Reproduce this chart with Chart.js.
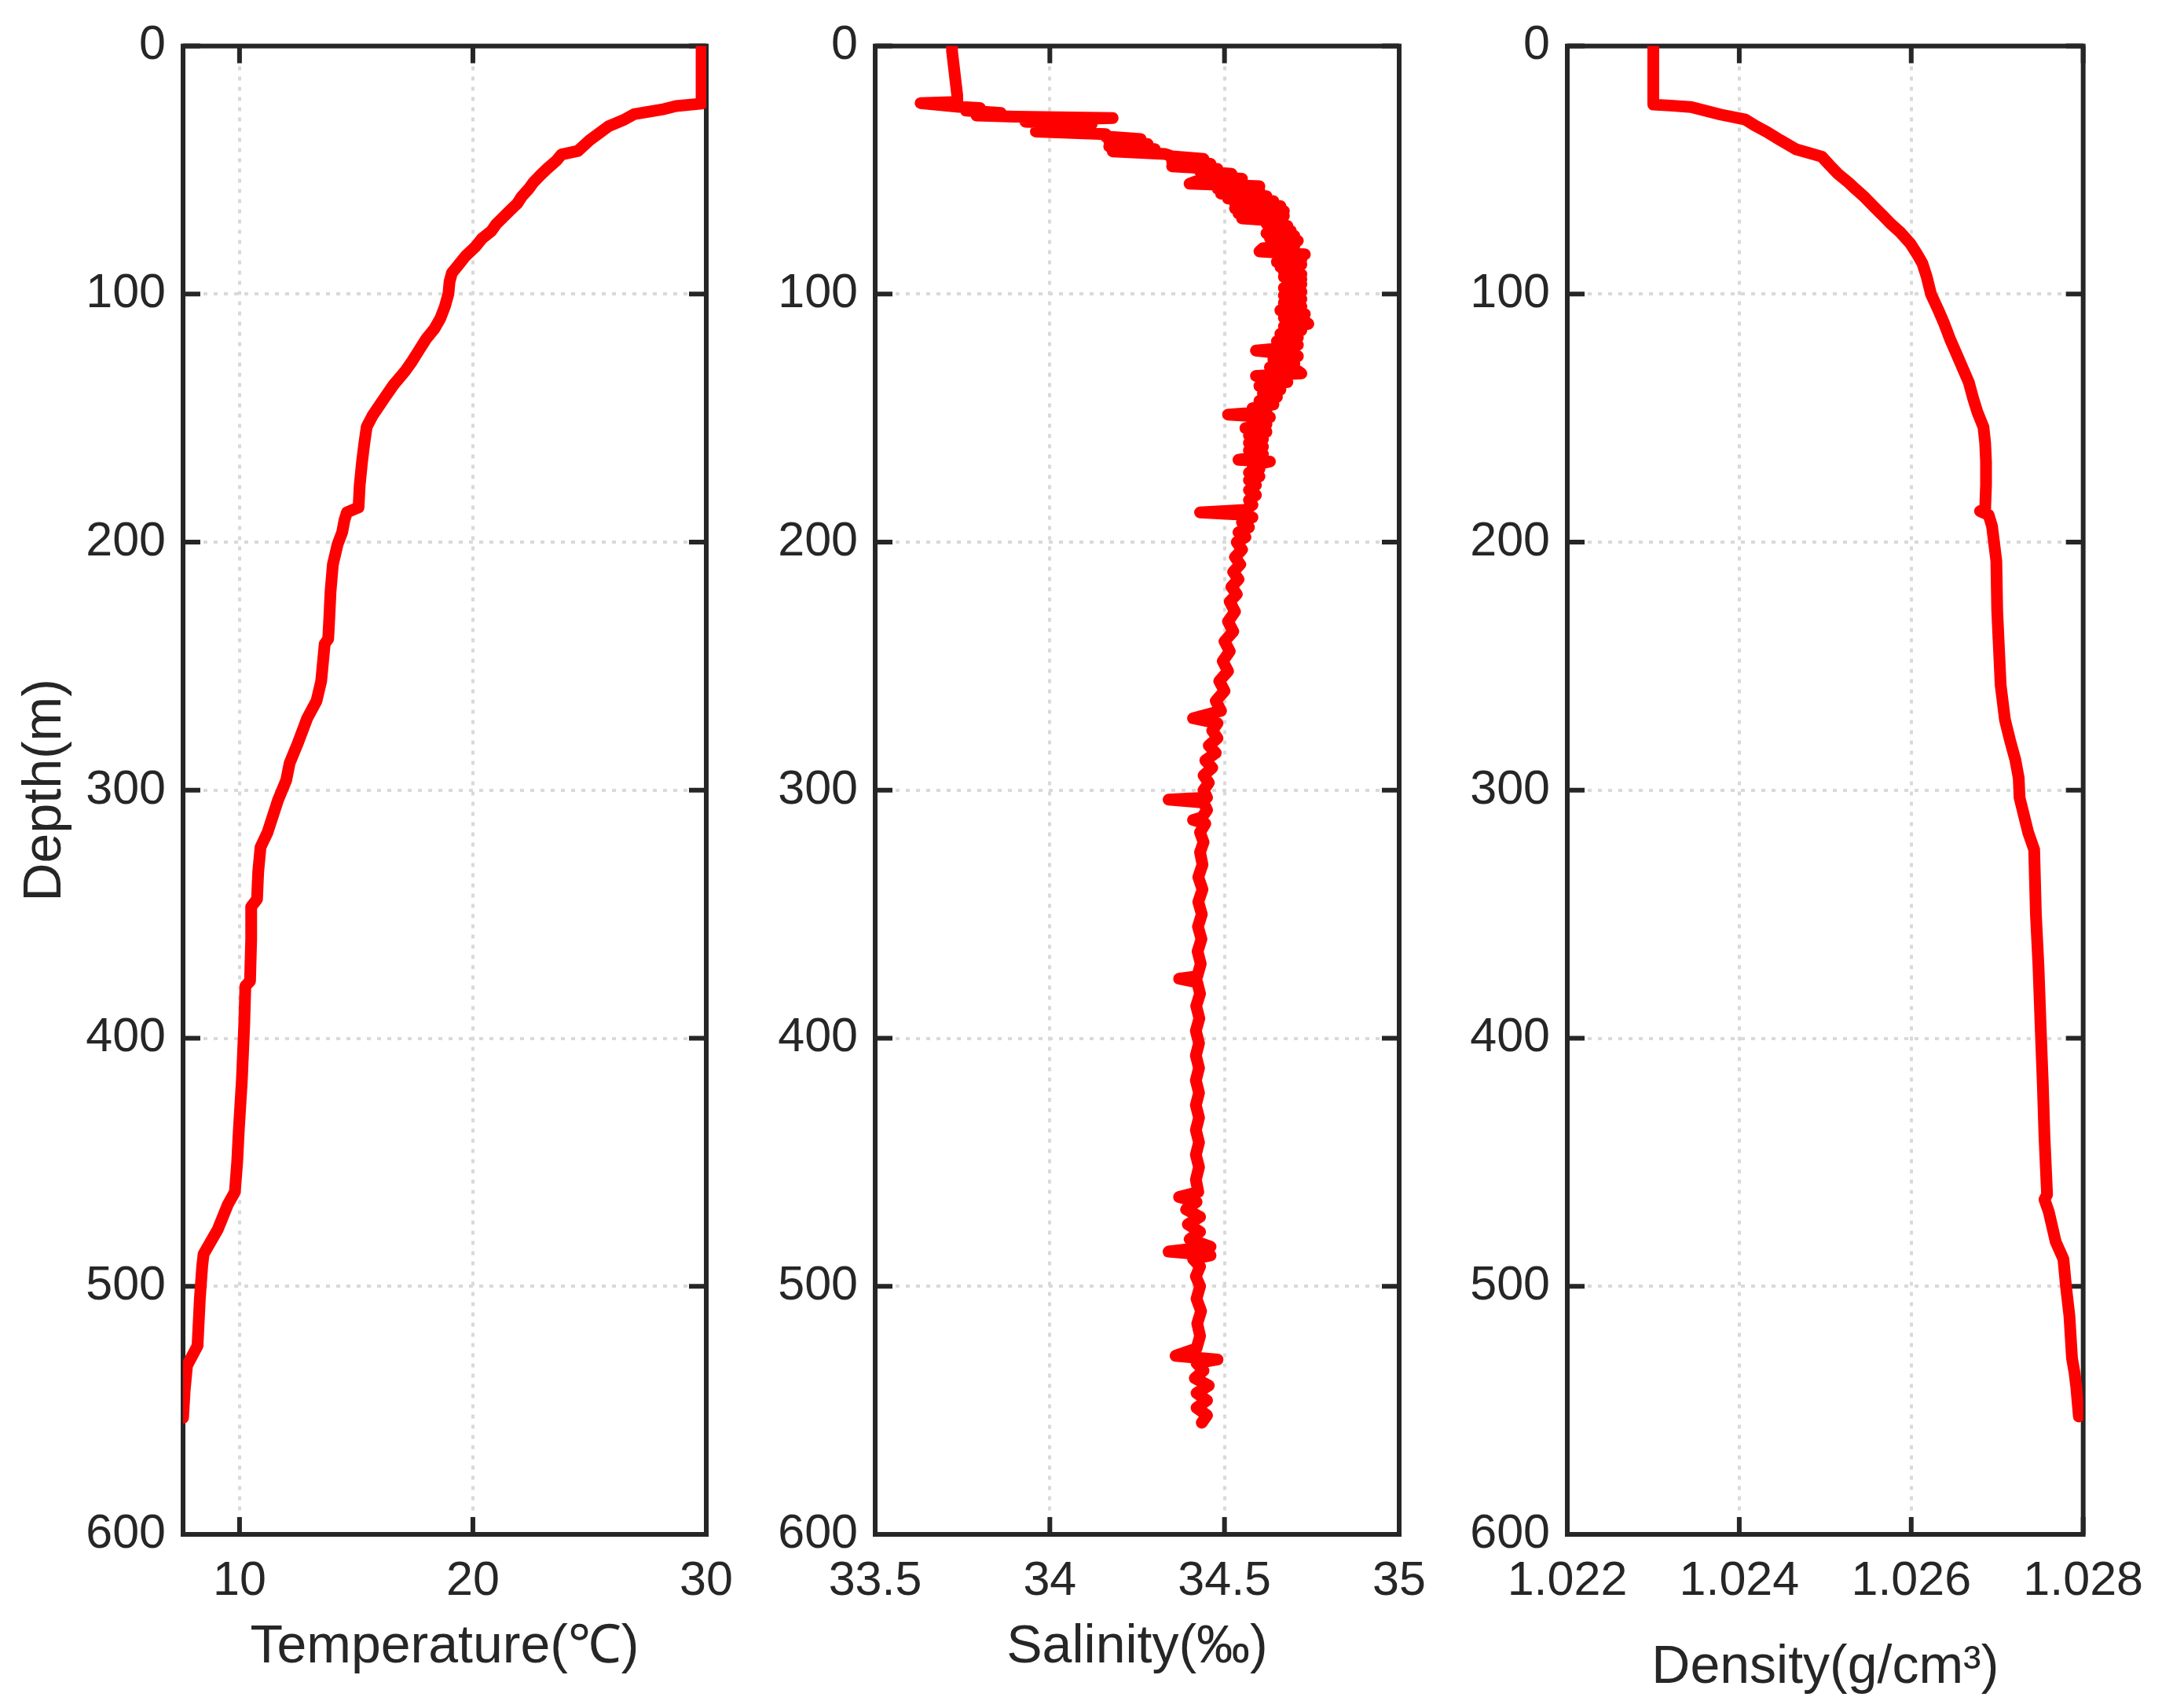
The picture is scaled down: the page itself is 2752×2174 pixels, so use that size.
<!DOCTYPE html>
<html>
<head>
<meta charset="utf-8">
<script src="https://cdn.jsdelivr.net/npm/chart.js@4.4.1/dist/chart.umd.min.js"></script>
<style>
html, body { margin: 0; padding: 0; background: #fff; }
#wrap { position: relative; width: 2752px; height: 2174px; }
#wrap canvas { position: absolute; top: 0; }
</style>
</head>
<body>
<div id="wrap">
  <canvas id="temp" width="960" height="2174" style="left:0px"></canvas>
  <canvas id="sal" width="880" height="2174" style="left:960px"></canvas>
  <canvas id="dens" width="912" height="2174" style="left:1840px"></canvas>
</div>
<script>
// depth ticks shared by the three panels
var depthTicks = [0, 100, 200, 300, 400, 500, 600];

// temperature profile (degC)
var tempDepth = [0, 10, 23.2, 24.2, 25.4, 27.5, 29.6, 32.4, 35.2, 38, 42.3, 43.7, 46, 49.3, 52, 54.9, 57.5,
    60.6, 63.5, 66.2, 69, 71.8, 74.5, 77.5, 81, 84.5, 88, 91.5, 95, 100, 105, 109.9, 114, 118, 122.5, 127,
    131, 136.6, 142, 145.5, 149, 153.5, 160, 167.6, 177, 186, 188, 191, 196, 201, 209, 220, 230, 239, 241,
    256, 264, 271, 281, 289, 296, 304, 317, 323, 333, 344, 347, 360, 377, 379, 395, 417, 437, 450, 462,
    467, 477, 487, 492, 505, 524, 532, 542, 553];
var tempValues = [29.8, 29.8, 29.8, 28.7, 28.2, 26.9, 26.5, 25.8, 25.4, 25.0, 24.5, 23.8, 23.6, 23.2, 22.9, 22.6, 22.4,
    22.1, 21.9, 21.6, 21.3, 21.0, 20.8, 20.4, 20.1, 19.7, 19.4, 19.1, 19.0, 18.95, 18.8, 18.6, 18.35, 18.0, 17.7, 17.4,
    17.1, 16.6, 16.2, 15.95, 15.7, 15.45, 15.35, 15.25, 15.15, 15.1, 14.6, 14.5, 14.4, 14.2, 14.0, 13.9, 13.85, 13.8, 13.65,
    13.5, 13.3, 12.9, 12.5, 12.15, 12.0, 11.65, 11.2, 10.9, 10.8, 10.75, 10.5, 10.5, 10.45, 10.25, 10.2, 10.1, 9.97, 9.9, 9.8,
    9.5, 9.07, 8.46, 8.4, 8.3, 8.2, 7.75, 7.65, 7.58];
var tempTicks = [10, 20, 30];

// salinity profile (permil)
var salDepth = [0, 2, 8, 14, 20, 22.5, 23, 24, 24.5, 25, 26, 27, 28, 28.5, 29, 29.8, 30.5, 31.5, 32.5, 33.5,
    34.5, 35.5, 36.5, 37.5, 38.5, 39.5, 40.5, 41.5, 42.5, 43.5, 44.5, 45.5, 46.5, 47.5, 48.5, 49.5, 50.5, 51.5,
    52.5, 53.5, 54.5, 55.5, 56.5, 57.5, 58.5, 59.5, 60.5, 61.5, 62.5, 63.5, 64.5, 65.5, 66.5, 67.5, 68.5, 69.5,
    70.5, 71.5, 72.5, 73.5, 74.5, 75.5, 76.5, 77.5, 78.5, 79.5, 80.5, 81.5, 82.8, 84, 85, 86, 87, 88, 89, 90,
    91, 92, 93, 94, 95, 96, 97.5, 99, 100.5, 102, 103.5, 105, 106.5, 108, 109.5, 111, 112, 113, 114.5, 116,
    117.5, 119, 120.5, 122, 122.8, 123.8, 125, 126.5, 128, 129.5, 131, 132, 133, 134, 135.5, 137, 138.5, 140,
    141.5, 143, 144.5, 146, 147.5, 148.6, 149.6, 151, 152.5, 154, 155.5, 157, 158.5, 160, 161.5, 163, 164.5,
    166, 166.8, 167.5, 169, 170.5, 172, 173.5, 175, 177, 179, 181, 183, 185, 187, 188, 189, 190, 192, 194,
    196, 198, 200, 203, 206, 209, 212, 215, 218, 221, 224, 228, 232, 236, 240, 244, 248, 252, 256, 260, 264,
    268, 271, 273, 276, 279, 282, 285, 288, 291, 294, 297, 300, 303, 303.8, 305, 308, 311, 312, 313.5, 317,
    321, 325, 330, 335, 340, 345, 350, 355, 360, 365, 370, 375, 376, 377.5, 382, 387, 392, 397, 402, 407,
    412, 417, 422, 427, 432, 437, 442, 447, 452, 457, 462, 464, 466, 469, 472, 475, 478, 481, 484, 486,
    487.5, 489, 492, 496, 500, 505, 510, 515, 520, 525, 528, 529.5, 531, 534, 537, 540, 543, 546, 549, 552, 555];
var salValues = [33.72, 33.72, 33.725, 33.73, 33.735, 33.735, 33.63, 33.70, 33.74, 33.80, 33.76, 33.86, 33.79, 33.90, 34.18, 34.00, 33.93, 34.12, 33.97, 34.10,
    33.96, 34.16, 34.16, 34.26, 34.17, 34.28, 34.17, 34.30, 34.18, 34.33, 34.35, 34.44, 34.35, 34.46, 34.35, 34.48, 34.43, 34.52,
    34.45, 34.55, 34.42, 34.40, 34.60, 34.48, 34.60, 34.49, 34.62, 34.51, 34.64, 34.53, 34.66, 34.53, 34.67, 34.54, 34.67, 34.55,
    34.66, 34.62, 34.68, 34.63, 34.69, 34.62, 34.70, 34.63, 34.71, 34.64, 34.70, 34.61, 34.60, 34.73, 34.66, 34.72, 34.65, 34.72, 34.66, 34.71,
    34.67, 34.72, 34.67, 34.72, 34.68, 34.72, 34.67, 34.72, 34.67, 34.72, 34.67, 34.72, 34.66, 34.73, 34.67, 34.73, 34.74, 34.67, 34.72, 34.66,
    34.71, 34.65, 34.71, 34.65, 34.59, 34.66, 34.71, 34.64, 34.70, 34.63, 34.71, 34.72, 34.59, 34.64, 34.68, 34.60, 34.66, 34.61,
    34.65, 34.60, 34.64, 34.58, 34.62, 34.51, 34.63, 34.58, 34.62, 34.56, 34.62, 34.57, 34.61, 34.57, 34.61, 34.57, 34.61,
    34.58, 34.54, 34.63, 34.58, 34.60, 34.57, 34.60, 34.57, 34.59, 34.57, 34.59, 34.57, 34.58, 34.56, 34.43, 34.56, 34.58, 34.55, 34.57,
    34.54, 34.56, 34.535, 34.55, 34.53, 34.545, 34.525, 34.54, 34.52, 34.535, 34.515, 34.53, 34.51, 34.525, 34.50, 34.515, 34.495, 34.51, 34.485, 34.50, 34.475,
    34.49, 34.41, 34.48, 34.465, 34.48, 34.455, 34.475, 34.445, 34.465, 34.44, 34.455, 34.44, 34.45, 34.34, 34.44, 34.45, 34.435, 34.41, 34.445, 34.43,
    34.44, 34.43, 34.437, 34.425, 34.437, 34.425, 34.435, 34.424, 34.434, 34.423, 34.432, 34.422, 34.37, 34.422, 34.43, 34.419, 34.428, 34.418, 34.427, 34.418,
    34.427, 34.418, 34.427, 34.418, 34.427, 34.418, 34.427, 34.418, 34.427, 34.418, 34.425, 34.37, 34.42, 34.39, 34.43, 34.395, 34.43, 34.40, 34.46, 34.34,
    34.46, 34.41, 34.43, 34.418, 34.43, 34.42, 34.433, 34.422, 34.43, 34.42, 34.36, 34.48, 34.42, 34.44, 34.415, 34.455, 34.42, 34.45, 34.42, 34.45, 34.435];
var salTicks = [33.5, 34, 34.5, 35];

// density profile (g/cm3)
var densDepth = [0, 10, 23.6, 24, 24.6, 27.6, 29.6, 32, 34.6, 38, 41.6, 44.6, 48, 51.6, 55, 57.6, 61, 65.6, 68,
    71.6, 75, 79.6, 84, 87.6, 93, 100, 106, 111.6, 118, 123.6, 130, 135.6, 142, 147.6, 153.6, 160, 167.6, 177,
    186.6, 187.5, 189, 193.6, 207.6, 227.6, 257.6, 271.6, 280, 287.6, 295, 303, 310, 317, 324, 350, 371, 400,
    418, 440, 463, 465, 470, 482, 489, 500, 512, 529, 535, 540.7, 552.5];
var densValues = [1.02300, 1.02300, 1.02300, 1.02320, 1.02344, 1.02378, 1.02407, 1.02418, 1.02432, 1.02448, 1.02466, 1.02496, 1.02505, 1.02515, 1.02527, 1.02535, 1.02546, 1.02559, 1.02566,
    1.02576, 1.02587, 1.02599, 1.02607, 1.02613, 1.02618, 1.02623, 1.02631, 1.02638, 1.02645, 1.02652, 1.02660, 1.02667, 1.02672, 1.02677, 1.02684, 1.02686, 1.02687, 1.02687,
    1.02686, 1.02680, 1.02690, 1.02694, 1.02699, 1.02700, 1.02704, 1.02709, 1.02715, 1.02721, 1.02725, 1.02726, 1.02731, 1.02736, 1.02743, 1.02745, 1.02748, 1.02751,
    1.02753, 1.02755, 1.02758, 1.02755, 1.02760, 1.02768, 1.02777, 1.02780, 1.02784, 1.02787, 1.02790, 1.02792, 1.02795];
var densTicks = [1.022, 1.024, 1.026, 1.028];

var ink = '#262626';
Chart.defaults.font.family = "'Liberation Sans', Arial, sans-serif";
Chart.defaults.color = ink;

// MATLAB style box with inward ticks on all four sides
var boxPlugin = {
    id: 'matlabBox',
    beforeDatasetsDraw: function(chart) {
        var ctx = chart.ctx, a = chart.chartArea;
        var xs = chart.scales.x, ys = chart.scales.y;
        ctx.save();
        ctx.strokeStyle = ink;
        ctx.lineWidth = 6;
        ctx.beginPath();
        xs.ticks.forEach(function(t) {
            var px = xs.getPixelForValue(t.value);
            ctx.moveTo(px, a.bottom); ctx.lineTo(px, a.bottom - 22);
            ctx.moveTo(px, a.top); ctx.lineTo(px, a.top + 22);
        });
        ys.ticks.forEach(function(t) {
            var py = ys.getPixelForValue(t.value);
            ctx.moveTo(a.left, py); ctx.lineTo(a.left + 22, py);
            ctx.moveTo(a.right, py); ctx.lineTo(a.right - 22, py);
        });
        ctx.stroke();
        ctx.strokeRect(a.left, a.top, a.right - a.left, a.bottom - a.top);
        ctx.restore();
    }
};

function panel(id, depths, values, xMin, xMax, xTicks, xTitle, opt) {
    var pts = depths.map(function(d, i) { return {x: values[i], y: d}; });
    return new Chart(document.getElementById(id), {
        type: 'line',
        data: {
            datasets: [{
                data: pts,
                borderColor: '#ff0000',
                borderWidth: 15,
                borderCapStyle: 'round',
                borderJoinStyle: 'round',
                pointRadius: 0,
                tension: 0,
                fill: false
            }]
        },
        options: {
            responsive: false,
            animation: false,
            devicePixelRatio: 1,
            layout: { padding: { left: 0, right: opt.right, top: 39, bottom: 0 } },
            plugins: { legend: { display: false }, tooltip: { enabled: false } },
            scales: {
                x: {
                    type: 'linear',
                    position: 'bottom',
                    min: xMin,
                    max: xMax,
                    afterBuildTicks: function(s) { s.ticks = xTicks.map(function(v) { return {value: v}; }); },
                    afterFit: function(s) { s.height = 221; },
                    ticks: {
                        autoSkip: false, maxRotation: 0, padding: 24,
                        font: { size: 61 }, color: ink,
                        callback: function(v) { return String(v); }
                    },
                    grid: { color: '#d9d9d9', lineWidth: 4, drawTicks: false },
                    border: { display: false, dash: [5, 8] },
                    title: {
                        display: true, text: xTitle, color: ink,
                        font: { size: 68 }, padding: { top: 0, bottom: opt.titleBottom }
                    }
                },
                y: {
                    type: 'linear',
                    position: 'left',
                    reverse: true,
                    min: 0,
                    max: 600,
                    afterBuildTicks: function(s) { s.ticks = depthTicks.map(function(v) { return {value: v}; }); },
                    afterFit: function(s) { s.width = opt.yWidth; },
                    ticks: {
                        autoSkip: false, padding: 22,
                        font: { size: 61 }, color: ink,
                        callback: function(v) { return String(v); }
                    },
                    grid: { color: '#d9d9d9', lineWidth: 4, drawTicks: false },
                    border: { display: false, dash: [5, 8] },
                    title: {
                        display: opt.yTitle, text: 'Depth(m)', color: ink,
                        font: { size: 68 }, padding: { top: 17, bottom: 0 }
                    }
                }
            }
        },
        plugins: [boxPlugin]
    });
}

panel('temp', tempDepth, tempValues, Math.min.apply(null, tempValues), 30, tempTicks, 'Temperature(℃)',
    { right: 61, yWidth: 233, yTitle: true, titleBottom: 36 });
panel('sal', salDepth, salValues, 33.5, 35, salTicks, 'Salinity(‰)',
    { right: 59, yWidth: 154, yTitle: false, titleBottom: 36 });
panel('dens', densDepth, densValues, 1.022, 1.028, densTicks, 'Density(g/cm³)',
    { right: 89, yWidth: 155, yTitle: false, titleBottom: 10 });
</script>
</body>
</html>
